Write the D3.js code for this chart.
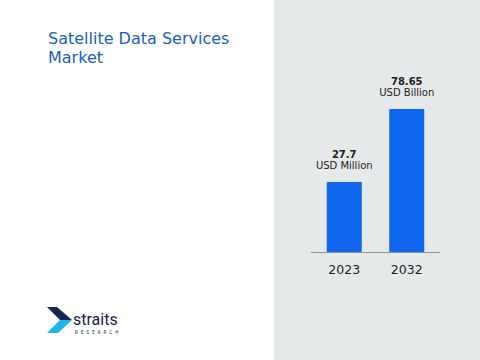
<!DOCTYPE html>
<html>
<head>
<meta charset="utf-8">
<script src="https://cdn.jsdelivr.net/npm/d3@7"></script>
<style>
  body { margin: 0; background: #fff; }
  svg { display: block; font-family: "DejaVu Sans", Verdana, sans-serif; }
</style>
</head>
<body>
<div class="chart"></div>
<script>
const years = ['2023', '2032'];
const values = [27.7, 78.65];
const valueLabels = ['27.7', '78.65'];
const unitLabels = ['USD Million', 'USD Billion'];
const titleLines = ['Satellite Data Services', 'Market'];

const width = 480;
const height = 360;

const svg = d3.select('.chart')
  .append('svg')
  .attr('width', width)
  .attr('height', height);

// grey panel behind the chart
svg.append('rect')
  .attr('x', 274)
  .attr('y', 0)
  .attr('width', width - 274)
  .attr('height', height)
  .attr('fill', '#e6e9e9');

// title
svg.append('g')
  .selectAll('text')
  .data(titleLines)
  .enter()
  .append('text')
  .attr('x', 48)
  .attr('y', (d, i) => 44 + i * 18.5)
  .attr('fill', '#1a60be')
  .attr('font-size', 16)
  .text(d => d);

// bars
const x = d3.scaleBand()
  .domain(years)
  .range([311, 440])
  .paddingInner(0.44)
  .paddingOuter(0.252);

// the source does not draw bars in proportion, domain offset approximates it
const y = d3.scaleLinear()
  .domain([-21.2, 78.65])
  .range([252, 109]);

const graph = svg.append('g');

graph.selectAll('rect.bar')
  .data(values)
  .enter()
  .append('rect')
  .attr('class', 'bar')
  .attr('x', (d, i) => x(years[i]))
  .attr('y', d => y(d))
  .attr('width', x.bandwidth())
  .attr('height', d => y(-21.2) - y(d))
  .attr('fill', '#1166f0');

graph.append('line')
  .attr('x1', 311)
  .attr('x2', 440)
  .attr('y1', 252.5)
  .attr('y2', 252.5)
  .attr('stroke', '#8a8f90')
  .attr('stroke-width', 1);

graph.selectAll('text.year')
  .data(years)
  .enter()
  .append('text')
  .attr('class', 'year')
  .attr('x', d => x(d) + x.bandwidth() / 2)
  .attr('y', 274)
  .attr('text-anchor', 'middle')
  .attr('font-size', 12.5)
  .attr('fill', '#222')
  .text(d => d);

graph.selectAll('text.value')
  .data(values)
  .enter()
  .append('text')
  .attr('class', 'value')
  .attr('x', (d, i) => x(years[i]) + x.bandwidth() / 2)
  .attr('y', d => y(d) - 24)
  .attr('text-anchor', 'middle')
  .attr('font-size', 10)
  .attr('font-weight', 'bold')
  .attr('fill', '#222')
  .text((d, i) => valueLabels[i]);

graph.selectAll('text.unit')
  .data(values)
  .enter()
  .append('text')
  .attr('class', 'unit')
  .attr('x', (d, i) => x(years[i]) + x.bandwidth() / 2)
  .attr('y', d => y(d) - 13)
  .attr('text-anchor', 'middle')
  .attr('font-size', 10)
  .attr('fill', '#222')
  .text((d, i) => unitLabels[i]);

// logo
const logo = svg.append('g');
logo.append('path')
  .attr('d', 'M47,307 L57,307 L72,320 L60,320 Z')
  .attr('fill', '#15264f');
logo.append('path')
  .attr('d', 'M60,320 L72,320 L58,333 L47,333 L55,325 Z')
  .attr('fill', '#1fb5e8');
logo.append('text')
  .attr('x', 73)
  .attr('y', 325)
  .attr('font-family', 'Roboto, sans-serif')
  .attr('font-size', 16)
  .attr('fill', '#15264f')
  .text('straits');
logo.append('text')
  .attr('x', 75)
  .attr('y', 334)
  .attr('font-family', 'Roboto, sans-serif')
  .attr('font-size', 4.5)
  .attr('letter-spacing', 3)
  .attr('fill', '#15264f')
  .text('RESEARCH');
</script>
</body>
</html>
